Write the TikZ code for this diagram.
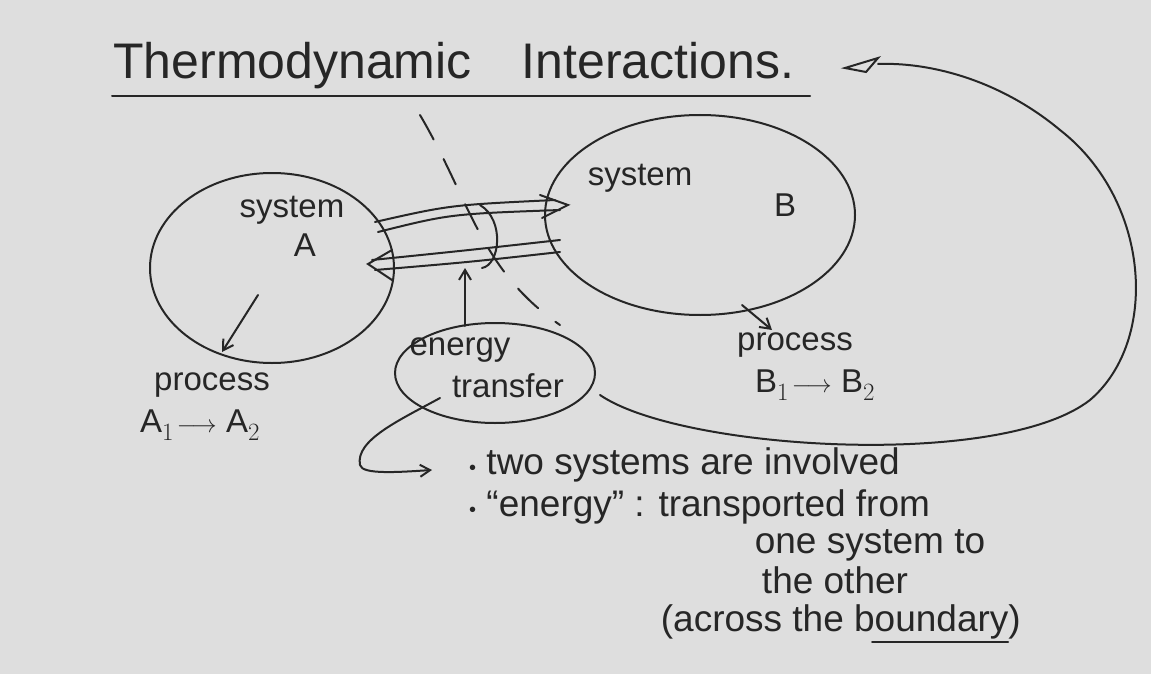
\documentclass[tikz,border=0pt]{standalone}
\usepackage{fontspec}
\setmainfont{Liberation Sans}
\usetikzlibrary{arrows.meta}
\begin{document}
\begin{tikzpicture}[x=1pt,y=-1pt,
  ink/.style={draw=black!85,line width=2pt,line cap=round},
  hw/.style={font=\fontsize{33}{37}\selectfont,text=black!85,inner sep=1pt},
  nt/.style={font=\fontsize{37}{40}\selectfont,text=black!85,inner sep=1pt},
  arr/.style={ink,-{Straight Barb[length=10pt,width=12pt]}}]
\fill[black!13] (0,0) rectangle (1151,674);
\useasboundingbox (0,0) rectangle (1151,674);
% title
\node[hw,font=\fontsize{50}{54}\selectfont,anchor=west] (title) at (112,66) {Thermodynamic\quad Interactions.};
\draw[ink] (112,96) -- (810,96);
\draw[ink,fill=none] (845,68) -- (878,58) -- (866,72) -- cycle;
% systems
\draw[ink] (272,268) ellipse [x radius=122,y radius=95];
\node[hw] (sA) at (292,210) {system};
\node[hw] (lA) at (305,245) {A};
\draw[ink] (700,215) ellipse [x radius=155,y radius=100];
\node[hw] (sB) at (640,178) {system};
\node[hw] (lB) at (785,205) {B};
% transfer arrows
\draw[ink] (375,222) .. controls (450,205) .. (555,200);
\draw[ink] (378,232) .. controls (450,214) .. (560,210);
\draw[ink] (540,195) -- (568,205) -- (542,218);
\draw[ink] (560,240) .. controls (470,250) .. (372,260);
\draw[ink] (560,252) .. controls (470,262) .. (375,270);
\draw[ink] (392,250) -- (368,264) -- (392,280);
\draw[ink] (480,205) .. controls (505,220) and (500,265) .. (482,268);
% dashed boundary
\draw[ink,dash pattern=on 28pt off 22pt] (420,115) .. controls (470,200) and (480,270) .. (560,325);
% energy transfer
\draw[ink] (495,373) ellipse [x radius=100,y radius=50];
\node[hw] (en) at (460,350) {energy};
\node[hw] (tr) at (508,386) {transfer};
\draw[arr] (465,326) -- (465,268);
% processes
\draw[arr] (258,295) -- (222,352);
\node[hw] (pA) at (212,385) {process};
\node[hw] (rA) at (200,425) {A$_1\!\longrightarrow$ A$_2$};
\draw[arr] (742,305) -- (772,330);
\node[hw] (pB) at (795,345) {process};
\node[hw] (rB) at (815,385) {B$_1\!\longrightarrow$ B$_2$};
% loop curve
\draw[ink] (600,395) .. controls (680,450) and (1000,470) .. (1090,400)
  .. controls (1160,340) and (1150,200) .. (1060,130)
  .. controls (1000,80) and (930,62) .. (878,64);
% hook arrow
\coordinate (hk) at (432,470);
\draw[arr] (440,398) .. controls (400,420) and (355,440) .. (360,465) .. controls (362,475) and (400,472) .. (hk);
% notes
\node[nt,anchor=west] (n1) at (468,465) {{\fontsize{20}{20}\selectfont\textbullet} two systems are involved};
\node[nt,anchor=west] (n2) at (468,507) {{\fontsize{20}{20}\selectfont\textbullet} ``energy'' : transported from};
\node[nt] (n3) at (870,545) {one system to};
\node[nt] (n4) at (835,580) {the other};
\node[nt,anchor=east] (n5) at (1022,622) {(across the boundary)};
\draw[ink] (872,642) -- (1008,642);
\end{tikzpicture}
\end{document}
